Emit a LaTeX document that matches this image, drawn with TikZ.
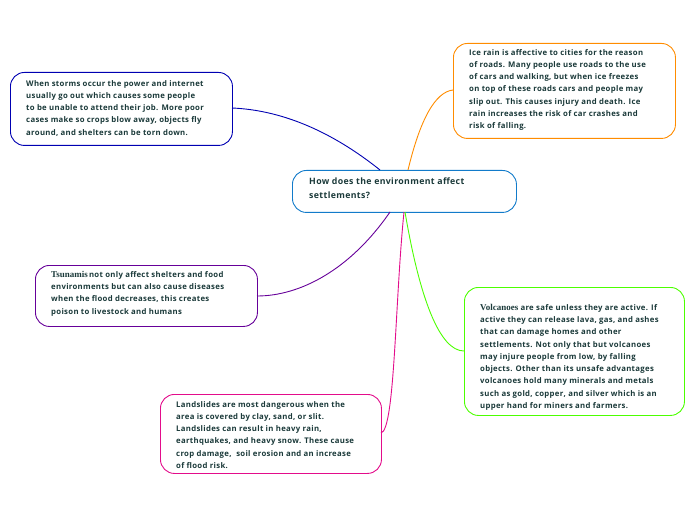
\documentclass[tikz,border=0pt]{standalone}
\usepackage{fontspec}
\setmainfont{Open Sans}[LetterSpace=4]
\newfontfamily\serifw{Liberation Serif}
\begin{document}
\begin{tikzpicture}[x=1bp,y=-1bp]
\definecolor{txt}{HTML}{1B3A3A}
\tikzset{topic/.style={draw,line width=0.9pt,rounded corners=14bp,fill=white,inner sep=0pt,anchor=north west},
conn/.style={line width=0.9pt},
tx/.style={text=txt,font=\bfseries\fontsize{7.8}{12.3}\selectfont,align=left,anchor=north west,inner sep=0pt}}
\useasboundingbox (0,0) rectangle (696,520);
\node[topic,draw=blue!70!black,minimum width=222bp,minimum height=73bp] (storm) at (10,72) {};
\node[tx] at (26,80) {When storms occur the power and internet\\usually go out which causes some people\\to be unable to attend their job. More poor\\cases make so crops blow away, objects fly\\around, and shelters can be torn down.};
\node[topic,draw=orange!90!yellow,minimum width=222bp,minimum height=95bp] (ice) at (453,43) {};
\node[tx] at (469,49) {Ice rain is affective to cities for the reason\\of roads. Many people use roads to the use\\of cars and walking, but when ice freezes\\on top of these roads cars and people may\\slip out. This causes injury and death. Ice\\rain increases the risk of car crashes and\\risk of falling.};
\node[topic,draw=violet!80!blue,minimum width=222bp,minimum height=61bp] (tsu) at (35,265) {};
\node[tx] at (51,271) {{\serifw\fontsize{9}{12}\selectfont Tsunamis}\,not only affect shelters and food\\environments but can also cause diseases\\when the flood decreases, this creates\\poison to livestock and humans};
\node[topic,draw=green!70!yellow,minimum width=220bp,minimum height=128bp] (vol) at (464,287) {};
\node[tx] at (480,304) {{\serifw\fontsize{9}{12}\selectfont Volcanoes} are safe unless they are active. If\\active they can release lava, gas, and ashes\\that can damage homes and other\\settlements. Not only that but volcanoes\\may injure people from low, by falling\\objects. Other than its unsafe advantages\\volcanoes hold many minerals and metals\\such as gold, copper, and silver which is an\\upper hand for miners and farmers.};
\node[topic,draw=magenta!90!violet,minimum width=221bp,minimum height=79bp] (land) at (160,394) {};
\node[tx] at (176,401) {Landslides are most dangerous when the\\area is covered by clay, sand, or slit.\\Landslides can result in heavy rain,\\earthquakes, and heavy snow. These cause\\crop damage,\ \ soil erosion and an increase\\of flood risk.};
\node[topic,draw=cyan!60!blue,minimum width=224bp,minimum height=42bp] (c) at (292,170) {};
\node[tx,font=\bfseries\fontsize{8.8}{14}\selectfont] at (309,178) {How does the environment affect\\settlements?};
\draw[conn,orange!90!yellow] (408,170) .. controls (420,120) and (435,92) .. (453,90);
\draw[conn,blue!70!black] (380,170) .. controls (330,130) and (280,110) .. (232,108);
\draw[conn,violet!80!blue] (390,212) .. controls (350,270) and (300,296) .. (257,296);
\draw[conn,magenta!90!violet] (404,212) .. controls (395,300) and (395,430) .. (381,433);
\draw[conn,green!70!yellow] (405,212) .. controls (420,300) and (440,351) .. (464,351);
\end{tikzpicture}
\end{document}
